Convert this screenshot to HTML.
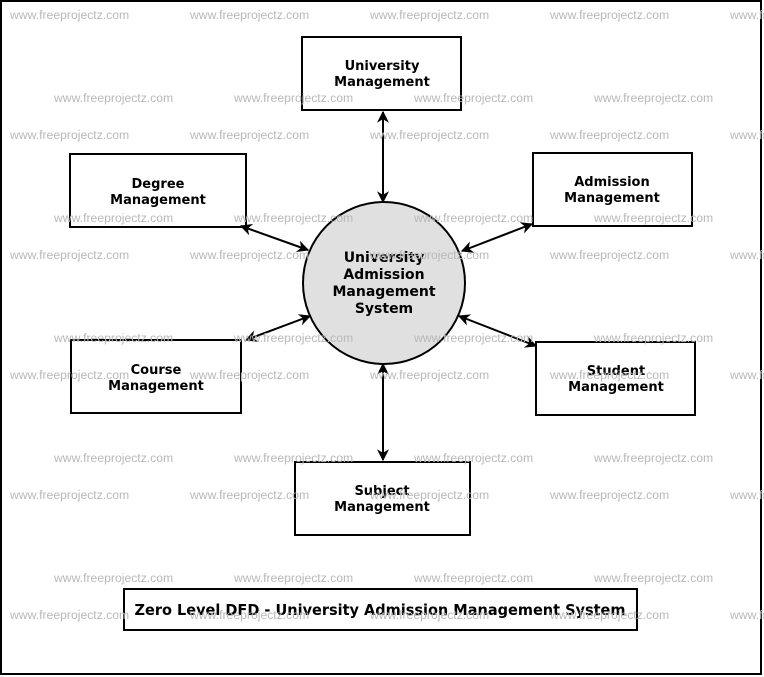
<!DOCTYPE html>
<html><head><meta charset="utf-8"><style>
html,body{margin:0;padding:0;background:#fff;}
svg{display:block;}
.wm{font-family:"Liberation Sans",sans-serif;font-size:12.2px;fill:#b8b8b8;}
.t{font-family:"DejaVu Sans",sans-serif;font-weight:bold;font-size:13px;fill:#000;text-anchor:middle;}
</style></head><body>
<svg width="764" height="677" viewBox="0 0 764 677" xmlns="http://www.w3.org/2000/svg">
<defs>
<marker id="a" viewBox="0 0 10 10" refX="9" refY="5" markerWidth="12" markerHeight="12" markerUnits="userSpaceOnUse" orient="auto-start-reverse">
<path d="M0,0 L10,5 L0,10 L3,5 z" fill="#000"/></marker>
</defs>
<rect x="1" y="1" width="760" height="673" fill="#fff" stroke="#000" stroke-width="2"/>
<g stroke="#000" stroke-width="2" fill="#fff">
<rect x="302" y="37" width="159" height="73"/>
<rect x="70" y="154" width="176" height="73"/>
<rect x="533" y="153" width="159" height="73"/>
<rect x="71" y="340" width="170" height="73"/>
<rect x="536" y="342" width="159" height="73"/>
<rect x="295" y="462" width="175" height="73"/>
<rect x="124" y="589" width="513" height="41"/>
<circle cx="384" cy="283" r="81" fill="#e0e0e0"/>
</g>
<g stroke="#000" stroke-width="2" marker-start="url(#a)" marker-end="url(#a)">
<line x1="383" y1="112" x2="383" y2="202"/>
<line x1="383" y1="364" x2="383" y2="460"/>
<line x1="241" y1="226" x2="308" y2="250"/>
<line x1="532" y1="224" x2="462" y2="251"/>
<line x1="246" y1="340" x2="310" y2="316"/>
<line x1="536" y1="346" x2="459" y2="316"/>
</g>
<g class="t">
<text x="382" y="70">University</text><text x="382" y="86">Management</text>
<text x="158" y="188">Degree</text><text x="158" y="204">Management</text>
<text x="612" y="186">Admission</text><text x="612" y="202">Management</text>
<text x="156" y="374">Course</text><text x="156" y="390">Management</text>
<text x="616" y="375">Student</text><text x="616" y="391">Management</text>
<text x="382" y="495">Subject</text><text x="382" y="511">Management</text>
<text x="384" y="262" font-size="14">University</text>
<text x="384" y="279" font-size="14">Admission</text>
<text x="384" y="296" font-size="14">Management</text>
<text x="384" y="313" font-size="14">System</text>
<text x="380" y="615" font-size="15" textLength="491" lengthAdjust="spacingAndGlyphs">Zero Level DFD - University Admission Management System</text>
</g>
<g class="wm">
<text x="10" y="19">www.freeprojectz.com</text><text x="190" y="19">www.freeprojectz.com</text><text x="370" y="19">www.freeprojectz.com</text><text x="550" y="19">www.freeprojectz.com</text><text x="730" y="19">www.freeprojectz.com</text>
<text x="54" y="102">www.freeprojectz.com</text><text x="234" y="102">www.freeprojectz.com</text><text x="414" y="102">www.freeprojectz.com</text><text x="594" y="102">www.freeprojectz.com</text>
<text x="10" y="139">www.freeprojectz.com</text><text x="190" y="139">www.freeprojectz.com</text><text x="370" y="139">www.freeprojectz.com</text><text x="550" y="139">www.freeprojectz.com</text><text x="730" y="139">www.freeprojectz.com</text>
<text x="54" y="222">www.freeprojectz.com</text><text x="234" y="222">www.freeprojectz.com</text><text x="414" y="222">www.freeprojectz.com</text><text x="594" y="222">www.freeprojectz.com</text>
<text x="10" y="259">www.freeprojectz.com</text><text x="190" y="259">www.freeprojectz.com</text><text x="370" y="259">www.freeprojectz.com</text><text x="550" y="259">www.freeprojectz.com</text><text x="730" y="259">www.freeprojectz.com</text>
<text x="54" y="342">www.freeprojectz.com</text><text x="234" y="342">www.freeprojectz.com</text><text x="414" y="342">www.freeprojectz.com</text><text x="594" y="342">www.freeprojectz.com</text>
<text x="10" y="379">www.freeprojectz.com</text><text x="190" y="379">www.freeprojectz.com</text><text x="370" y="379">www.freeprojectz.com</text><text x="550" y="379">www.freeprojectz.com</text><text x="730" y="379">www.freeprojectz.com</text>
<text x="54" y="462">www.freeprojectz.com</text><text x="234" y="462">www.freeprojectz.com</text><text x="414" y="462">www.freeprojectz.com</text><text x="594" y="462">www.freeprojectz.com</text>
<text x="10" y="499">www.freeprojectz.com</text><text x="190" y="499">www.freeprojectz.com</text><text x="370" y="499">www.freeprojectz.com</text><text x="550" y="499">www.freeprojectz.com</text><text x="730" y="499">www.freeprojectz.com</text>
<text x="54" y="582">www.freeprojectz.com</text><text x="234" y="582">www.freeprojectz.com</text><text x="414" y="582">www.freeprojectz.com</text><text x="594" y="582">www.freeprojectz.com</text>
<text x="10" y="619">www.freeprojectz.com</text><text x="190" y="619">www.freeprojectz.com</text><text x="370" y="619">www.freeprojectz.com</text><text x="550" y="619">www.freeprojectz.com</text><text x="730" y="619">www.freeprojectz.com</text>
</g>
</svg>
</body></html>
